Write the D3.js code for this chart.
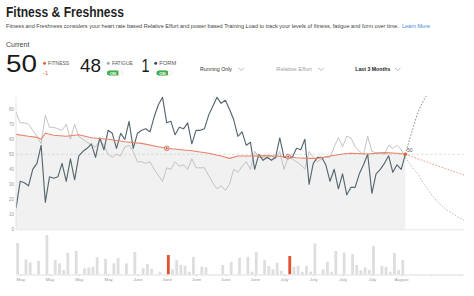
<!DOCTYPE html>
<html><head><meta charset="utf-8">
<script src="https://cdn.jsdelivr.net/npm/d3@7"></script>
<style>
body{margin:0;background:#fff;}
svg{display:block;font-family:"Liberation Sans",Arial,sans-serif;}
</style>
</head><body>
<svg id="c" width="474" height="296"></svg>
<script>
// ---------- DATA ----------
const startDate = new Date(2019, 4, 4);   // first day shown
const todayDate = new Date(2019, 7, 5);   // current day
const endDate   = new Date(2019, 7, 19);  // end of projection

const yTicks = [0, 10, 20, 30, 40, 50, 60, 70, 80];

// daily values, day 0 = startDate
const formValues = [14,32,31,29,40,44,56,18,35,34,35,44,32,47,33,49,52,54,57,48,61,53,66,64,54,64,60,72,54,64,66,67,65,75,83,88,71,72,63,68,67,71,57,66,66,67,76,82,88,84,86,80,73,62,65,56,58,40,50,46,48,46,48,61,48,48,48,54,53,60,30,44,48,48,43,32,40,27,37,23,28,28,37,43,50,24,37,40,44,49,38,43,40,50];
const fatigueValues = [78,71,71,70,66,62,57,76,68,68,67,66,70,60,70,62,60,58,56,55,59,56,50,48,50,49,55,56,52,45,45,44,45,40,36,32,41,40,45,42,43,40,47,41,41,41,36,31,27,29,26,30,40,38,42,45,40,52,48,48,47,49,47,52,40,48,47,45,43,40,52,48,45,47,48,48,55,61,55,62,61,55,52,50,62,52,51,51,50,56,54,56,53,48];
const fitnessDays   = [0,3,5,6,7,9,12,15,18,22,26,30,34,36,40,42,46,49,51,53,56,60,65,67,70,72,74,78,80,84,88,91,93];
const fitnessValues = [63.3,62,61.3,60,64,62.7,62,63,61,60,58.4,57.3,55,54,52.9,52.4,50.7,48.9,47.3,48.9,48.9,49.1,48.4,47.7,47.3,47.3,48.4,50.2,50.7,50.2,51.1,50.7,50];

// projections after today
const fitnessProjDays   = [93, 100, 107];
const fitnessProjValues = [50, 43, 36.2];
const fatigueProjDays   = [93,94,95,96,97,98,99,100,101,102,103,104,105,106,107];
const fatigueProjValues = [48,44,40,37,32,28,24,20.5,17.5,15,12.7,11,9,7.5,6.2];
const formProjDays      = [93,94,95,96,97,98,99];
const formProjValues    = [50,60,69,78,84,89,93];

// activities (relative effort)
const activityDays   = [0,2,3,5,7,9,10,11,12,14,16,17,18,19,21,23,24,26,28,30,31,32,34,36,37,38,39,40,41,42,44,45,49,51,53,55,56,57,59,60,61,62,63,65,66,67,68,69,70,71,73,74,75,76,78,80,81,82,83,84,85,87,88,89,90,91,92];
const activityValues = [158,75,60,67,198,72,55,22,108,118,30,35,38,85,78,55,83,55,112,30,52,27,13,97,25,72,47,42,13,88,38,35,47,63,83,88,13,113,72,42,25,58,18,92,38,43,13,42,13,155,25,63,13,118,110,102,47,20,35,22,143,42,38,13,108,20,72];
const highlightedDays = [36, 65];

const currentFitness = "50", fitnessDelta = "-1", currentFatigue = "48", currentForm = "1";

// ---------- CHART ----------
const svg = d3.select("#c");
const dayDate = i => d3.timeDay.offset(startDate, i);
const x = d3.scaleTime().domain([startDate, endDate]).range([16, 464]);
const y = d3.scaleLinear().domain([0, 80]).range([229.3, 109.3]);
const yBar = d3.scaleLinear().domain([0, 200]).range([274.3, 234.6]);

const C = {fit:"#e8836b", fitDot:"#e8603f", fat:"#bcbcbc", form:"#56676f", grid:"#d6d6d6"};

function fitText(sel, len){ sel.attr("textLength", len).attr("lengthAdjust","spacingAndGlyphs"); return sel; }

// header
fitText(svg.append("text").attr("x",6).attr("y",17).attr("font-size",14.5).attr("font-weight","bold")
  .attr("fill","#1f1f1f").text("Fitness & Freshness"), 118);
fitText(svg.append("text").attr("x",6).attr("y",27.8).attr("font-size",5.6).attr("fill","#444")
  .text("Fitness and Freshness considers your heart rate based Relative Effort and power based Training Load to track your levels of fitness, fatigue and form over time."), 393);
fitText(svg.append("text").attr("x",402).attr("y",27.8).attr("font-size",5.6).attr("fill","#3f8ad8").text("Learn More"), 28);

svg.append("text").attr("x",6).attr("y",46.5).attr("font-size",7).attr("fill","#444").text("Current");

fitText(svg.append("text").attr("x",6).attr("y",71.8).attr("font-size",23.5).attr("fill","#1a1a1a").text(currentFitness), 31);
fitText(svg.append("text").attr("x",80).attr("y",71.8).attr("font-size",19).attr("fill","#1a1a1a").text(currentFatigue), 21);
fitText(svg.append("text").attr("x",141.5).attr("y",71.8).attr("font-size",19).attr("fill","#1a1a1a").text(currentForm), 8);

function legendItem(cx, color, label, w){
  svg.append("circle").attr("cx",cx).attr("cy",63.3).attr("r",1.5).attr("fill",color);
  fitText(svg.append("text").attr("x",cx+3.6).attr("y",65).attr("font-size",5).attr("fill","#555").text(label), w);
}
legendItem(44.5, C.fitDot, "FITNESS", 21);
legendItem(108.3, "#aaaaaa", "FATIGUE", 21);
legendItem(155.7, "#3b4d59", "FORM", 17);
svg.append("text").attr("x",43).attr("y",75).attr("font-size",6).attr("fill",C.fitDot).text(fitnessDelta);

function toggle(x0){
  svg.append("rect").attr("x",x0).attr("y",70.5).attr("width",16).attr("height",5).attr("rx",2.5).attr("fill","#e3e3e3");
  svg.append("rect").attr("x",x0).attr("y",70.5).attr("width",12).attr("height",5).attr("rx",2.5).attr("fill","#3dae4a");
  svg.append("circle").attr("cx",x0+13.5).attr("cy",73).attr("r",2.2).attr("fill","#fafafa");
  svg.append("text").attr("x",x0+6).attr("y",74.6).attr("font-size",4.3).attr("font-weight","bold")
    .attr("text-anchor","middle").attr("fill","#fff").text("ON");
}
toggle(107);
toggle(156.5);

function dropdown(x0, label, w, color, weight, chevX){
  fitText(svg.append("text").attr("x",x0).attr("y",71.3).attr("font-size",5.8).attr("fill",color)
    .attr("font-weight",weight).text(label), w);
  svg.append("path").attr("d",`M${chevX},67.8 L${chevX+2.7},70.5 L${chevX+5.4},67.8`)
    .attr("fill","none").attr("stroke","#999").attr("stroke-width",0.7);
}
dropdown(200, "Running Only", 32, "#333", "normal", 238.5);
dropdown(276.3, "Relative Effort", 35.5, "#a0a0a0", "normal", 318.3);
dropdown(355.3, "Last 3 Months", 35, "#222", "bold", 395);

// main chart
svg.append("defs").append("clipPath").attr("id","clipMain")
  .append("rect").attr("x",16).attr("y",96).attr("width",449).attr("height",134);
const gMain = svg.append("g").attr("clip-path","url(#clipMain)");

const fitPts = fitnessDays.map((d,i)=>({date:dayDate(d), v:fitnessValues[i]}));
gMain.append("path").datum(fitPts)
  .attr("d", d3.area().x(d=>x(d.date)).y0(y(0)).y1(d=>y(d.v)))
  .attr("fill","#f1f1f1");

// axis lines
svg.append("line").attr("x1",16).attr("x2",16).attr("y1",97).attr("y2",229.3).attr("stroke","#dedede").attr("stroke-width",0.8);
svg.append("line").attr("x1",16).attr("x2",464.5).attr("y1",229.8).attr("y2",229.8).attr("stroke","#dedede").attr("stroke-width",0.8);
gMain.append("line").attr("x1",16).attr("x2",464).attr("y1",y(50)).attr("y2",y(50))
  .attr("stroke","#c8c8c8").attr("stroke-width",0.6).attr("stroke-dasharray","2.5,2");

const gy = svg.append("g").attr("transform","translate(14,0)")
  .call(d3.axisLeft(y).tickValues(yTicks).tickSize(0).tickPadding(0));
gy.select(".domain").remove();
gy.selectAll("text").attr("font-size",4.5).attr("fill","#999").attr("font-family","Liberation Sans, Arial, sans-serif");

const line = d3.line().x(d=>x(d.date)).y(d=>y(d.v));
const fatPts = fatigueValues.map((v,i)=>({date:dayDate(i), v}));
const formPts = formValues.map((v,i)=>({date:dayDate(i), v}));

gMain.append("path").datum(fatPts).attr("d",line).attr("fill","none").attr("stroke",C.fat).attr("stroke-width",0.9).attr("stroke-linejoin","round");
gMain.append("path").datum(formPts).attr("d",line).attr("fill","none").attr("stroke",C.form).attr("stroke-width",1.15).attr("stroke-linejoin","round");
gMain.append("path").datum(fitPts).attr("d",line).attr("fill","none").attr("stroke",C.fit).attr("stroke-width",1.1).attr("stroke-linejoin","round");

// projections
const proj = (days, vals) => days.map((d,i)=>({date:dayDate(d), v:vals[i]}));
gMain.append("path").datum(proj(fatigueProjDays, fatigueProjValues)).attr("d", line.curve(d3.curveMonotoneX))
  .attr("fill","none").attr("stroke","#aaaaaa").attr("stroke-width",0.8).attr("stroke-dasharray","1.6,1.6");
gMain.append("path").datum(proj(formProjDays, formProjValues)).attr("d", line.curve(d3.curveMonotoneX))
  .attr("fill","none").attr("stroke","#5f7480").attr("stroke-width",0.8).attr("stroke-dasharray","1.6,1.6");
gMain.append("path").datum(proj(fitnessProjDays, fitnessProjValues)).attr("d", line.curve(d3.curveLinear))
  .attr("fill","none").attr("stroke",C.fit).attr("stroke-width",0.8).attr("stroke-dasharray","1.6,1.6");

// markers on highlighted activities
highlightedDays.forEach(d=>{
  const i = fitnessDays.indexOf(d);
  const cx = x(dayDate(d)), cy = y(fitnessValues[i]);
  gMain.append("circle").attr("cx",cx).attr("cy",cy).attr("r",2.4).attr("fill","#f6c9bc").attr("stroke","#b9573f").attr("stroke-width",0.6);
  gMain.append("circle").attr("cx",cx).attr("cy",cy).attr("r",0.8).attr("fill","#8a3b2a");
});
const lastI = fitnessDays.length-1;
gMain.append("circle").attr("cx",x(dayDate(fitnessDays[lastI]))).attr("cy",y(fitnessValues[lastI])).attr("r",1.8).attr("fill",C.fitDot);
svg.append("text").attr("x",x(dayDate(fitnessDays[lastI]))+1.5).attr("y",y(fitnessValues[lastI])-2)
  .attr("font-size",5).attr("fill","#555").text(currentFitness);

// bars
svg.append("g").selectAll("rect").data(activityDays.map((d,i)=>({d, v:activityValues[i]})))
  .join("rect")
  .attr("x", e=>x(dayDate(e.d))+0.2)
  .attr("width", 2.8)
  .attr("y", e=>yBar(e.v))
  .attr("height", e=>yBar(0)-yBar(e.v))
  .attr("fill", e=>highlightedDays.includes(e.d) ? "#e4502f" : "#dedede");

// bottom axis
const weekTicks = d3.timeSunday.range(startDate, endDate);
const gx = svg.append("g").attr("transform","translate(0,274.5)")
  .call(d3.axisBottom(x).tickValues(weekTicks).tickSize(1.8).tickSizeOuter(0).tickPadding(1.2)
    .tickFormat(d => d <= todayDate ? d3.timeFormat("%B")(d) : ""));
gx.select(".domain").attr("stroke","#d0d0d0").attr("stroke-width",0.7);
gx.selectAll(".tick line").attr("stroke","#c8c8c8").attr("stroke-width",0.6);
gx.selectAll("text").attr("font-size",4.4).attr("fill","#999").attr("font-family","Liberation Sans, Arial, sans-serif");
</script>
</body></html>
